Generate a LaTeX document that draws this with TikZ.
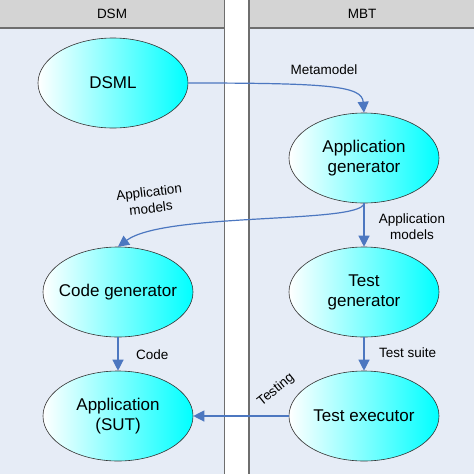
\documentclass[tikz,border=0pt]{standalone}
\usepackage{fontspec}
\setmainfont{Liberation Sans}
\usetikzlibrary{arrows.meta,shapes.geometric}

\definecolor{laneFill}{HTML}{E6ECF6}
\definecolor{headFill}{HTML}{D4D4D4}
\definecolor{laneLine}{HTML}{6E6E6E}
\definecolor{flowBlue}{HTML}{4C77C0}

\def \nodeFont {\fontsize{17}{20}\selectfont}
\def \labelFont {\fontsize{13.5}{16}\selectfont}

\tikzset{
  activity/.style={ellipse, draw=black!80, line width=0.6pt, left color=white, right color=cyan,
    minimum width=150pt, minimum height=90pt, inner xsep=-10pt, inner ysep=0pt, align=center, font=\nodeFont},
  flow/.style={draw=flowBlue, line width=1.2pt, -{Triangle[length=11pt,width=11pt]}},
  flowlabel/.style={font=\labelFont, align=center, inner sep=1pt}
}

\begin{document}
\begin{tikzpicture}[x=1pt,y=-1pt]
      \useasboundingbox (0,0) rectangle (474,474);
      % swim lanes
      \fill[laneFill] (0,0) rectangle (224.5,474);
      \fill[laneFill] (249,0) rectangle (474,474);
      \fill[headFill] (0,0) rectangle (224.5,28);
      \fill[headFill] (249,0) rectangle (474,28);
      \draw[laneLine, line width=1.2pt] (0,28) -- (224.5,28) (249,28) -- (474,28);
      \draw[laneLine, line width=1.2pt] (224.5,0) -- (224.5,474) (249,0) -- (249,474);
      \node[font=\labelFont] (dsmHead) at (112,14) {DSM};
      \node[font=\labelFont] (mbtHead) at (362,14) {MBT};

      % activities
      \node[activity] (dsml) at (113,83) {DSML};
      \node[activity] (appGen) at (364,158) {Application\\generator};
      \node[activity] (codeGen) at (118,292) {Code generator};
      \node[activity] (testGen) at (364,292) {Test\\generator};
      \node[activity] (sut) at (118,416) {Application\\(SUT)};
      \node[activity] (testExec) at (364,416) {Test executor};

      % flows
      \draw[flow] (dsml.east) .. controls (330,83) and (362,86) .. (appGen.north);
      \draw[flow] (appGen.south) .. controls (362,224) and (165,212) .. (codeGen.north);
      \draw[flow] (appGen.south) -- (testGen.north);
      \draw[flow] (codeGen.south) -- (sut.north);
      \draw[flow] (testGen.south) -- (testExec.north);
      \draw[flow] (testExec.west) -- (sut.east);

      \node[flowlabel] (metaLabel) at (324,70) {Metamodel};
      \node[flowlabel] (modelsRight) at (412,227) {Application\\models};
      \node[flowlabel, rotate=7] (modelsLeft) at (150,200) {Application\\models};
      \node[flowlabel, anchor=west] (codeLabel) at (135,355) {Code};
      \node[flowlabel, anchor=west] (suiteLabel) at (378,353) {Test suite};
      \node[flowlabel, rotate=39] (testingLabel) at (276,390) {Testing};
   \end{tikzpicture}
\end{document}
